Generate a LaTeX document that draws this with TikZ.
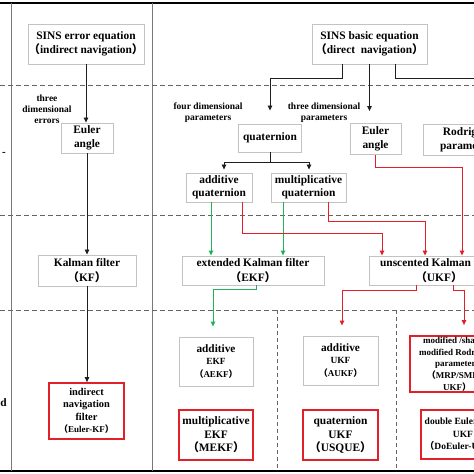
\documentclass[tikz,border=0pt]{standalone}
\usepackage{fontspec}
\setmainfont{Liberation Serif}
\newfontfamily\cjk{Noto Sans CJK SC}
\usetikzlibrary{arrows.meta}
\newcommand{\flp}{{\cjk （}}
\newcommand{\frp}{{\cjk ）}}
\definecolor{boxgray}{RGB}{195,195,195}
\definecolor{myred}{RGB}{226,32,42}
\definecolor{mygreen}{RGB}{34,178,92}
\definecolor{lnk}{RGB}{30,30,30}
\definecolor{divgray}{RGB}{120,120,120}
\definecolor{dashgray}{RGB}{100,100,100}
\begin{document}
\begin{tikzpicture}[x=1pt,y=-1pt,
  gbox/.style={draw=boxgray, line width=0.9pt, align=center, inner sep=0pt,
    font=\bfseries\fontsize{11.4}{14.5}\selectfont},
  rbox/.style={draw=myred, line width=1.8pt, align=center, inner sep=0pt,
    font=\bfseries\fontsize{11.4}{13.5}\selectfont},
  lbl/.style={align=center, inner sep=0pt, font=\bfseries\fontsize{9.5}{11}\selectfont},
  tip/.style={-{Triangle[length=5pt,width=4.5pt]}},
  arr/.style={draw=lnk, line width=0.8pt, tip},
  rarr/.style={draw=myred, line width=0.9pt, tip},
  garr/.style={draw=mygreen, line width=0.9pt, tip},
  divline/.style={draw=divgray, line width=1pt},
  dashline/.style={draw=dashgray, line width=1pt, dash pattern=on 5pt off 3pt},
  vdash/.style={draw=dashgray, line width=1pt, dash pattern=on 4pt off 3pt}
]
\useasboundingbox (0,0) rectangle (474,474);
\clip (0,0) rectangle (474,474);
\fill[white] (0,0) rectangle (474,474);

% frame and dividers
\draw[line width=2pt, black] (0,3) -- (474,3);
\draw[line width=2pt, black] (0,471) -- (474,471);
\draw[divline] (11,3) -- (11,471);
\draw[divline] (152,3) -- (152,471);
\draw[dashline] (0,85) -- (474,85);
\draw[dashline] (0,215) -- (474,215);
\draw[dashline] (0,310) -- (474,310);
\draw[vdash] (277,310) -- (277,471);
\draw[vdash] (396,310) -- (396,471);

% left-edge fragments
\node[anchor=east, inner sep=0pt, font=\bfseries\fontsize{11}{13}\selectfont] (frag1) at (6,154) {-};
\node[anchor=east, inner sep=0pt, font=\bfseries\fontsize{11.4}{13}\selectfont] (frag2) at (7,403) {d};

% top row
\node[gbox, minimum width=116pt, minimum height=40pt] (se) at (86,44) {SINS error equation\\\flp indirect navigation\frp};
\node[gbox, minimum width=115pt, minimum height=40pt] (sb) at (369.5,44) {SINS basic equation\\\flp direct\ \ navigation\frp};

% second row
\node[gbox, minimum width=52pt, minimum height=30pt, font=\bfseries\fontsize{11.4}{14}\selectfont] (ea1) at (87,138) {Euler\\angle};
\node[gbox, minimum width=63pt, minimum height=28pt] (q) at (270,138) {quaternion};
\node[gbox, minimum width=51pt, minimum height=31pt, font=\bfseries\fontsize{11.4}{14}\selectfont] (ea2) at (375.5,139) {Euler\\angle};
\node[gbox, minimum width=90pt, minimum height=31pt, font=\bfseries\fontsize{11.4}{14}\selectfont] (rp) at (468,139.5) {Rodrigues\\parameters};
\node[gbox, minimum width=66pt, minimum height=29pt, font=\bfseries\fontsize{11.4}{13}\selectfont] (aq) at (219,187.5) {additive\\quaternion};
\node[gbox, minimum width=75pt, minimum height=29pt, font=\bfseries\fontsize{11.4}{13}\selectfont] (mq) at (308.5,187.5) {multiplicative\\quaternion};

\node[lbl] (l1) at (47,109) {three\\dimensional\\errors};
\node[lbl] (l2) at (208,113) {four dimensional\\parameters};
\node[lbl] (l3) at (324,113) {three dimensional\\parameters};

% third row
\node[gbox, minimum width=98pt, minimum height=31pt, font=\bfseries\fontsize{11.4}{15}\selectfont] (kf) at (87,270.5) {Kalman filter\\\flp KF\frp};
\node[gbox, minimum width=142pt, minimum height=29pt, font=\bfseries\fontsize{11.4}{15}\selectfont] (ekf) at (253,270.5) {extended Kalman filter\\\flp EKF\frp};
\node[gbox, minimum width=140pt, minimum height=29pt, font=\bfseries\fontsize{11.4}{15}\selectfont] (ukf) at (439,270.5) {unscented Kalman filter\\\flp UKF\frp};

% bottom row
\node[rbox, minimum width=75pt, minimum height=56pt, font=\bfseries\fontsize{10.4}{12.5}\selectfont] (inf) at (86.5,411) {indirect\\navigation\\filter\\{\fontsize{9}{12}\selectfont\flp Euler-KF\frp}};
\node[gbox, minimum width=74pt, minimum height=49pt, font=\bfseries\fontsize{11.3}{12.5}\selectfont] (aekf) at (216,361.5) {additive\\{\fontsize{9.4}{12.5}\selectfont EKF}\\{\fontsize{9}{12.5}\selectfont\flp AEKF\frp}};
\node[rbox, minimum width=74pt, minimum height=50pt] (mekf) at (216,435) {multiplicative\\EKF\\\flp MEKF\frp};
\node[gbox, minimum width=75pt, minimum height=49pt, font=\bfseries\fontsize{11.3}{12.5}\selectfont] (aukf) at (340.5,360.5) {additive\\{\fontsize{9.4}{12.5}\selectfont UKF}\\{\fontsize{9}{12.5}\selectfont\flp AUKF\frp}};
\node[rbox, minimum width=75pt, minimum height=50pt] (usque) at (340.5,435) {quaternion\\UKF\\\flp USQUE\frp};
\node[rbox, minimum width=94pt, minimum height=56pt, font=\bfseries\fontsize{9}{11.7}\selectfont] (mrp) at (457,364) {modified /shadow\\modified Rodrigues\\parameters\\\flp MRP/SMRP-\\UKF\frp};
\node[rbox, minimum width=84pt, minimum height=49pt, font=\bfseries\fontsize{9.5}{12.5}\selectfont] (doe) at (463,434.5) {double Euler angle\\UKF\\\flp DoEuler-UKF\frp};

% helper coordinates
\coordinate (sbq) at ([xshift=-27.5pt]sb.south);
\coordinate (sbr) at ([xshift=25.5pt]sb.south);
\coordinate (rpin) at ([xshift=25pt]rp.north);
\coordinate (aqin) at ([xshift=5pt]aq.north);
\coordinate (mqin) at ([xshift=0.5pt]mq.north);
\coordinate (aqg) at ([xshift=-8pt]aq.south);
\coordinate (mqg) at ([xshift=-25.5pt]mq.south);
\coordinate (aqr) at ([xshift=23pt]aq.south);
\coordinate (mqr) at ([xshift=19.5pt]mq.south);
\coordinate (ukin1) at ([xshift=-57pt]ukf.north);
\coordinate (ukin2) at ([xshift=-14pt]ukf.north);
\coordinate (ukin3) at ([xshift=23pt]ukf.north);
\coordinate (ekfo) at ([xshift=3pt]ekf.south);
\coordinate (aekfin) at ([xshift=-3pt]aekf.north);
\coordinate (ukfo1) at ([xshift=-23pt]ukf.south);
\coordinate (ukfo2) at ([xshift=14pt]ukf.south);
\coordinate (aukfin) at ([xshift=1.5pt]aukf.north);
\coordinate (mrpin) at ([xshift=7pt]mrp.north);

% black connectors
\draw[arr] (se.south) -- (se.south |- ea1.north);
\draw[arr] (ea1.south) -- (ea1.south |- kf.north);
\draw[arr] (kf.south) -- (kf.south |- inf.north);
\draw[arr, shorten >=13pt] (sbq) |- (q.north |- 0,78) -- (q.north);
\draw[arr, shorten >=12pt] (sb.south) -- (sb.south |- ea2.north);
\draw[arr, shorten >=13pt] (sbr) |- (rpin |- 0,78) -- (rpin);
\draw[arr, shorten >=3pt] (q.south) |- (aqin |- 0,162) -- (aqin);
\draw[arr, shorten >=3pt] (q.south) |- (mqin |- 0,162) -- (mqin);

% green connectors
\draw[garr] (aqg) -- (aqg |- ekf.north);
\draw[garr] (mqg) -- (mqg |- ekf.north);
\draw[garr, shorten >=10pt] (ekfo) -- (ekfo |- 0,289) -| (aekfin);

% red connectors
\draw[rarr] (aqr) -- (aqr |- 0,233) -| (ukin1);
\draw[rarr] (mqr) -- (mqr |- 0,221) -| (ukin2);
\draw[rarr] (ea2.south) -- (ea2.south |- 0,167) -| (ukin3);
\draw[rarr, shorten >=10pt] (ukfo1) -- (ukfo1 |- 0,290) -| (aukfin);
\draw[rarr, shorten >=10pt] (ukfo2) -- (ukfo2 |- 0,290) -| (mrpin);
\end{tikzpicture}
\end{document}
